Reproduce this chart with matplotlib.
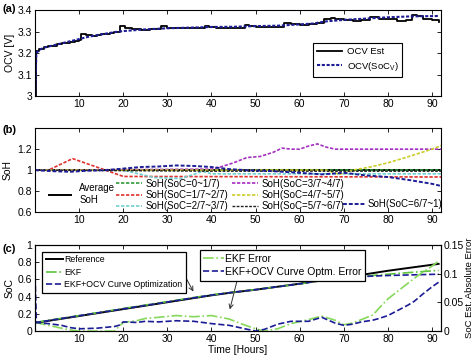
import matplotlib
matplotlib.use("Agg")
import matplotlib.pyplot as plt

# ---- panel (a): OCV ----
T_OCV_V = [0, 0.3, 1, 2, 4, 6, 8, 10, 12, 14, 16, 18, 20, 25, 30, 35, 40, 45,
           50, 55, 60, 63, 66, 70, 75, 80, 85, 91.5]
OCV_V = [3.0, 3.2, 3.215, 3.225, 3.235, 3.245, 3.255, 3.265, 3.275, 3.283, 3.29,
         3.297, 3.302, 3.31, 3.315, 3.318, 3.321, 3.322, 3.325, 3.327, 3.333,
         3.337, 3.347, 3.354, 3.36, 3.366, 3.37, 3.372]

T_OCV_EST = [0, 0.3, 1, 2, 3, 4, 5, 6, 7, 8, 9, 10, 10.5, 11.5, 12, 13, 14, 15,
             16, 17, 18, 19.3, 20.5, 22, 24, 26, 28.5, 30, 32, 34, 36, 38.5, 39.5,
             41, 43, 45, 47.5, 48.5, 50, 52, 54, 56.5, 58, 60, 62, 64, 65.5, 67,
             68, 70, 72, 74, 76, 78, 80, 82, 84, 85.5, 86.5, 88, 90, 91.5]
OCV_EST = [3.0, 3.21, 3.22, 3.23, 3.235, 3.232, 3.24, 3.245, 3.248, 3.252, 3.258,
           3.262, 3.288, 3.283, 3.285, 3.28, 3.284, 3.287, 3.29, 3.293, 3.297,
           3.325, 3.315, 3.31, 3.308, 3.31, 3.327, 3.316, 3.315, 3.314, 3.316,
           3.326, 3.32, 3.318, 3.316, 3.318, 3.332, 3.326, 3.322, 3.32, 3.322,
           3.34, 3.334, 3.332, 3.336, 3.338, 3.358, 3.363, 3.357, 3.352, 3.35,
           3.355, 3.368, 3.36, 3.356, 3.35, 3.352, 3.378, 3.37, 3.36, 3.355, 3.345]

# ---- panel (b): SoH ----
T_AVG = [0, 93]
SOH_AVG = [1.0, 1.0]
T_S1 = [0, 93]
SOH_S1 = [1.0, 1.0]
T_S2 = [0, 3, 8.5, 16, 20, 93]
SOH_S2 = [1.0, 1.0, 1.11, 1.0, 0.94, 0.935]
T_S3 = [0, 20, 24, 27, 30, 33, 36, 38, 40, 93]
SOH_S3 = [1.0, 1.0, 0.96, 0.93, 0.925, 0.92, 0.96, 0.99, 0.965, 0.965]
T_S4 = [0, 40, 42, 45, 48, 51, 54, 56, 58, 60, 62, 64, 66, 68, 93]
SOH_S4 = [1.0, 1.01, 1.03, 1.07, 1.12, 1.13, 1.17, 1.21, 1.2, 1.2, 1.23, 1.25, 1.22,
          1.2, 1.2]
T_S5 = [0, 66, 69, 72, 76, 80, 84, 87, 90, 93]
SOH_S5 = [1.0, 1.0, 0.96, 1.0, 1.03, 1.07, 1.12, 1.16, 1.2, 1.25]
T_S6 = [0, 40, 93]
SOH_S6 = [1.0, 0.99, 0.99]
T_S7 = [0, 4, 8, 12, 16, 20, 24, 28, 32, 36, 40, 44, 48, 52, 56, 60, 65, 70, 75,
        80, 85, 90, 93]
SOH_S7 = [1.0, 0.99, 0.985, 0.995, 1.0, 1.015, 1.03, 1.035, 1.045, 1.04, 1.03,
          1.01, 1.0, 0.995, 0.985, 0.975, 0.96, 0.975, 0.95, 0.935, 0.905, 0.87,
          0.84]

# ---- panel (c): SoC and absolute error ----
T_SOC = [0, 5, 10, 15, 20, 25, 30, 35, 40, 45, 50, 55, 60, 65, 70, 75, 80, 85, 91.5]
SOC_REF = [0.095, 0.135, 0.175, 0.215, 0.255, 0.295, 0.335, 0.375, 0.415, 0.45,
           0.48, 0.515, 0.55, 0.59, 0.625, 0.66, 0.7, 0.735, 0.78]
SOC_EKF = [0.1, 0.14, 0.18, 0.22, 0.262, 0.302, 0.342, 0.382, 0.42, 0.452, 0.482,
           0.515, 0.548, 0.585, 0.615, 0.64, 0.66, 0.68, 0.705]
T_SOC_OCV = [0, 0.3, 5, 10, 15, 20, 25, 30, 35, 40, 45, 50, 55, 60, 65, 70, 75,
             80, 85, 91.5]
SOC_OCV = [0.63, 0.1, 0.138, 0.178, 0.218, 0.258, 0.298, 0.338, 0.378, 0.418,
           0.451, 0.481, 0.515, 0.548, 0.59, 0.62, 0.635, 0.645, 0.652, 0.66]

T_ERR = [0, 3, 6, 8, 10, 14, 18, 19, 20, 23, 25, 28, 32, 36, 40, 44, 47, 50, 52,
         55, 58, 62, 65, 68, 70, 72, 74, 76.6, 78, 80, 82, 84.5, 86, 88, 90, 91.5]
ERR_EKF = [0.015, 0.01, 0.005, 0.002, 0.0, 0.0, 0.0, 0.008, 0.015, 0.018, 0.022,
           0.024, 0.027, 0.025, 0.027, 0.021, 0.012, 0.004, 0.0, 0.004, 0.013,
           0.02, 0.026, 0.019, 0.011, 0.014, 0.02, 0.028, 0.04, 0.056, 0.068,
           0.083, 0.092, 0.103, 0.113, 0.122]
ERR_OCV = [0.015, 0.013, 0.01, 0.006, 0.004, 0.005, 0.008, 0.01, 0.016, 0.015,
           0.017, 0.016, 0.018, 0.017, 0.013, 0.01, 0.005, 0.0, 0.003, 0.012,
           0.017, 0.017, 0.024, 0.014, 0.01, 0.012, 0.016, 0.019, 0.022, 0.027,
           0.035, 0.045, 0.052, 0.065, 0.077, 0.085]

XTICKS = [10, 20, 30, 40, 50, 60, 70, 80, 90]
XLIM = (0, 92)

NAVY = "#1c1c96"
FS = 7.5

plt.rcParams["font.family"] = ["Liberation Sans", "DejaVu Sans"]
plt.rcParams["font.size"] = FS

fig = plt.figure(figsize=(4.74, 3.56), dpi=100)
ax_a = fig.add_axes([0.074, 0.730, 0.856, 0.242])
ax_b = fig.add_axes([0.074, 0.404, 0.856, 0.236])
ax_c = fig.add_axes([0.074, 0.070, 0.856, 0.242])


def matlab_style(ax):
    ax.tick_params(direction="in", top=True, right=True, length=3,
                   width=0.6, labelsize=FS, pad=2)
    for s in ax.spines.values():
        s.set_linewidth(0.8)
    ax.set_xlim(*XLIM)
    ax.set_xticks(XTICKS)


# (a)
ax_a.plot(T_OCV_EST, OCV_EST, color="black", lw=1.3, drawstyle="steps-post",
          label="OCV Est")
ax_a.plot(T_OCV_V, OCV_V, color=NAVY, lw=1.5, ls=(0, (1.5, 0.8)),
          label="OCV(SoC$_\\mathregular{V}$)")
matlab_style(ax_a)
ax_a.set_ylim(3.0, 3.4)
ax_a.set_yticks([3.0, 3.1, 3.2, 3.3, 3.4])
ax_a.set_yticklabels(["3", "3.1", "3.2", "3.3", "3.4"])
ax_a.set_ylabel("OCV [V]", labelpad=2)
leg = ax_a.legend(loc="upper left", bbox_to_anchor=(0.685, 0.615), fontsize=6.8,
                  fancybox=False, edgecolor="black", framealpha=1,
                  handlelength=2.6, handletextpad=0.5, borderpad=0.45,
                  labelspacing=0.35, borderaxespad=0)
leg.get_frame().set_linewidth(0.8)

# (b)
dash = (0, (2, 1))
h_avg, = ax_b.plot(T_AVG, SOH_AVG, color="black", lw=1.4)
h1, = ax_b.plot(T_S1, SOH_S1, color="#2e9a3a", lw=1.2, ls=dash)
h2, = ax_b.plot(T_S2, SOH_S2, color="#e0302c", lw=1.2, ls=dash)
h3, = ax_b.plot(T_S3, SOH_S3, color="#6fcfcf", lw=1.2, ls=dash)
h4, = ax_b.plot(T_S4, SOH_S4, color="#a52fc0", lw=1.2, ls=dash)
h5, = ax_b.plot(T_S5, SOH_S5, color="#cccc2a", lw=1.2, ls=dash)
h6, = ax_b.plot(T_S6, SOH_S6, color="#222222", lw=1.0, ls=dash)
h7, = ax_b.plot(T_S7, SOH_S7, color=NAVY, lw=1.4, ls=dash)
matlab_style(ax_b)
ax_b.set_ylim(0.6, 1.4)
ax_b.set_yticks([0.6, 0.8, 1.0, 1.2])
ax_b.set_yticklabels(["0.6", "0.8", "1", "1.2"])
ax_b.set_ylabel("SoH", labelpad=4)

common = dict(frameon=False, fontsize=7, borderpad=0, borderaxespad=0,
              handletextpad=0.3, labelspacing=0.15)
leg_avg = ax_b.legend([h_avg], ["Average\nSoH"], loc="center left",
                      bbox_to_anchor=(0.035, 0.215), handlelength=2.2,
                      **dict(common, handletextpad=0.9))
ax_b.add_artist(leg_avg)
leg_mid = ax_b.legend([h1, h2, h3, h4, h5, h6],
                      ["SoH(SoC=0~1/7)", "SoH(SoC=1/7~2/7)", "SoH(SoC=2/7~3/7)",
                       "SoH(SoC=3/7~4/7)", "SoH(SoC=4/7~5/7)", "SoH(SoC=5/7~6/7)"],
                      ncol=2, loc="upper left", bbox_to_anchor=(0.2, 0.4),
                      handlelength=2.7, columnspacing=0.4, **common)
ax_b.add_artist(leg_mid)
ax_b.legend([h7], ["SoH(SoC=6/7~1)"], loc="upper left",
            bbox_to_anchor=(0.76, 0.155), handlelength=2.2, **common)

# (c)
h_ref, = ax_c.plot(T_SOC, SOC_REF, color="black", lw=1.4)
h_ekf, = ax_c.plot(T_SOC, SOC_EKF, color="#5cc23a", lw=1.2, ls="-.")
h_ocv, = ax_c.plot(T_SOC_OCV, SOC_OCV, color=NAVY, lw=1.2, ls="--")
matlab_style(ax_c)
ax_c.set_ylim(0, 1)
ax_c.set_yticks([0, 0.2, 0.4, 0.6, 0.8, 1.0])
ax_c.set_yticklabels(["0", "0.2", "0.4", "0.6", "0.8", "1"])
ax_c.tick_params(right=False)
ax_c.set_ylabel("SoC", labelpad=2)
ax_c.set_xlabel("Time [Hours]", labelpad=1)

ax_e = ax_c.twinx()
h_e1, = ax_e.plot(T_ERR, ERR_EKF, color="#86d85a", lw=1.2, ls="-.")
h_e2, = ax_e.plot(T_ERR, ERR_OCV, color=NAVY, lw=1.2, ls="--")
ax_e.set_xlim(*XLIM)
ax_e.set_ylim(0, 0.15)
ax_e.set_yticks([0, 0.05, 0.1, 0.15])
ax_e.set_yticklabels(["0", "0.05", "0.1", "0.15"])
ax_e.tick_params(direction="in", length=3, width=0.6, labelsize=FS, pad=2)
ax_e.set_ylabel("SoC Est. Absolute Error", fontsize=6.8, labelpad=1)

leg1 = ax_c.legend([h_ref, h_ekf, h_ocv],
                   ["Reference", "EKF", "EKF+OCV Curve Optimization"],
                   loc="upper left", bbox_to_anchor=(0.018, 0.92), fontsize=6.3,
                   fancybox=False, edgecolor="black", framealpha=1,
                   handlelength=2.0, handletextpad=0.1, borderpad=0.4,
                   labelspacing=0.4, borderaxespad=0)
leg1.get_frame().set_linewidth(0.9)
leg2 = ax_e.legend([h_e1, h_e2], ["EKF Error", "EKF+OCV Curve Optm. Error"],
                   loc="upper left", bbox_to_anchor=(0.406, 0.94), fontsize=7.5,
                   fancybox=False, edgecolor="black", framealpha=1,
                   handlelength=2.0, handletextpad=0.1, borderpad=0.35,
                   labelspacing=0.3, borderaxespad=0)
leg2.get_frame().set_linewidth(0.9)

ax_c.annotate("", xy=(36.2, 0.43), xytext=(33.0, 0.73),
              arrowprops=dict(arrowstyle="->", color="#333333", lw=0.7))
ax_e.annotate("", xy=(44.0, 0.033), xytext=(46.0, 0.094),
              arrowprops=dict(arrowstyle="->", color="#333333", lw=0.7))

for lab, y in [("(a)", 0.975), ("(b)", 0.635), ("(c)", 0.3)]:
    fig.text(0.005, y, lab, fontsize=8, fontweight="bold", va="center")

fig.savefig("out.png", dpi=100)
